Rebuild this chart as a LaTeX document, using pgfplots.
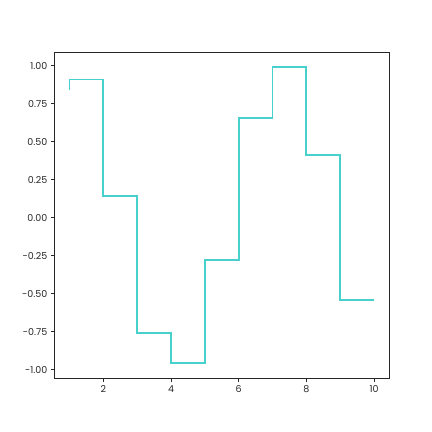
\documentclass[border=0pt]{standalone}
\usepackage{fontspec}
\setmainfont{Poppins}
\usepackage{pgfplots}
\pgfplotsset{compat=1.18}
\definecolor{turq}{RGB}{72,209,204}
\definecolor{axgray}{RGB}{38,38,38}
\begin{document}
\begin{tikzpicture}
  \begin{axis}[
      scale only axis,
      width=335pt, height=326pt,
      xmin=0.55, xmax=10.45,
      ymin=-1.0574, ymax=1.0874,
      xtick={2,4,6,8,10},
      ytick={-1,-0.75,-0.5,-0.25,0,0.25,0.5,0.75,1},
      yticklabel style={/pgf/number format/.cd, fixed, fixed zerofill, precision=2},
      /pgf/number format/assume math mode=true,
      tick align=outside,
      tick pos=left,
      major tick length=3.5pt,
      tick style={axgray, line width=0.6pt},
      axis line style={axgray, line width=0.8pt},
      every tick label/.append style={font=\fontsize{9.5}{11}\selectfont, text=axgray},
    ]
    \addplot[const plot mark right, draw=turq, line width=1.8pt] coordinates {
      (1,0.841) (2,0.909) (3,0.141) (4,-0.757) (5,-0.959)
      (6,-0.279) (7,0.657) (8,0.989) (9,0.412) (10,-0.544)
    };
  \end{axis}
  \useasboundingbox (-54.3pt,-53.7pt) rectangle (377.7pt,378.3pt);
\end{tikzpicture}
\end{document}
